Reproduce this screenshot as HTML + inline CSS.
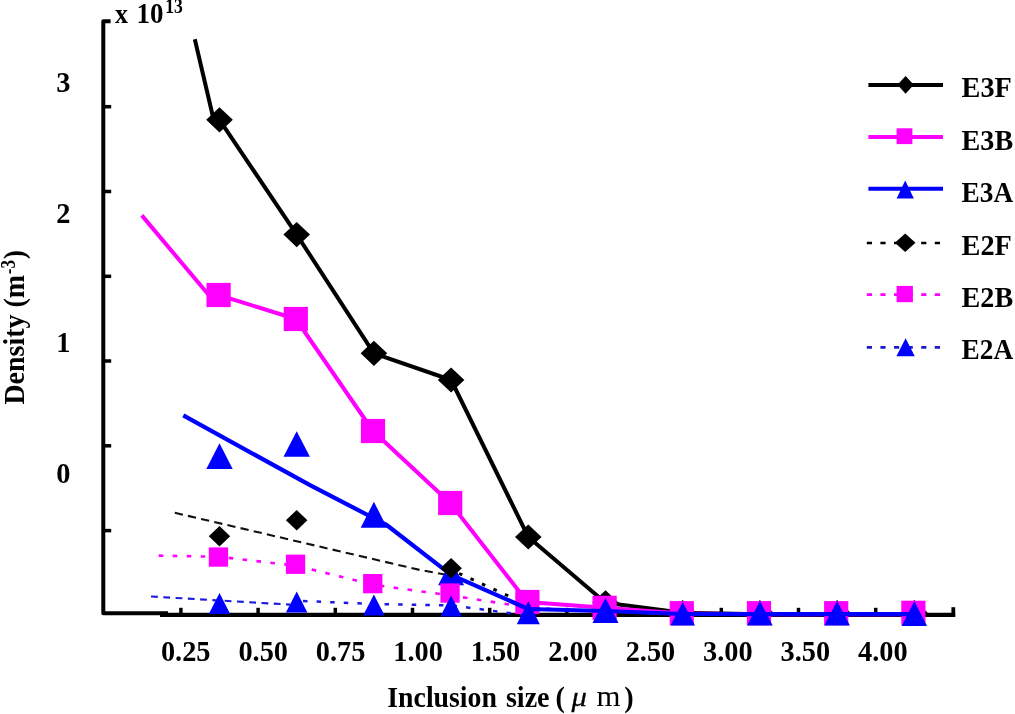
<!DOCTYPE html>
<html><head><meta charset="utf-8"><title>Inclusion density</title>
<style>
html,body{margin:0;padding:0;background:#fff;}
svg{display:block;}
text{font-family:"Liberation Serif","Noto Serif CJK SC",serif;font-weight:bold;fill:#000;}
</style></head><body>
<svg width="1015" height="714" viewBox="0 0 1015 714">
<defs><filter id="soft" x="0" y="0" width="100%" height="100%" filterUnits="userSpaceOnUse" color-interpolation-filters="sRGB"><feGaussianBlur stdDeviation="0.65"/></filter></defs>
<rect width="1015" height="714" fill="#fff"/>
<g filter="url(#soft)">
<rect width="1015" height="714" fill="#fff"/>

<g stroke="#000" fill="none">
<polyline points="110.6,21.3 103.3,21.3 103.3,613.3 168,613.3" stroke-width="4" stroke-linejoin="round"/>
<polyline points="160,614.9 955.2,614.9" stroke-width="4.2"/>
<line x1="953.3" y1="616.9" x2="953.3" y2="607.2" stroke-width="3.8"/>
</g>
<g stroke="#000" stroke-width="3.5" fill="none">
<line x1="103.3" y1="106.7" x2="111.2" y2="106.7"/>
<line x1="103.3" y1="191.5" x2="111.2" y2="191.5"/>
<line x1="103.3" y1="276.3" x2="111.2" y2="276.3"/>
<line x1="103.3" y1="361.0" x2="111.2" y2="361.0"/>
<line x1="103.3" y1="445.8" x2="111.2" y2="445.8"/>
<line x1="103.3" y1="530.6" x2="111.2" y2="530.6"/>
<line x1="180.9" y1="614" x2="180.9" y2="607.8"/>
<line x1="258.1" y1="614" x2="258.1" y2="607.8"/>
<line x1="335.3" y1="614" x2="335.3" y2="607.8"/>
<line x1="412.5" y1="614" x2="412.5" y2="607.8"/>
<line x1="489.7" y1="614" x2="489.7" y2="607.8"/>
<line x1="566.9" y1="614" x2="566.9" y2="607.8"/>
<line x1="644.1" y1="614" x2="644.1" y2="607.8"/>
<line x1="721.3" y1="614" x2="721.3" y2="607.8"/>
<line x1="798.5" y1="614" x2="798.5" y2="607.8"/>
<line x1="875.7" y1="614" x2="875.7" y2="607.8"/>
</g>
<polyline points="151,596.5 290,604.6" fill="none" stroke="#1a1ae0" stroke-width="2.1" stroke-dasharray="6.8 5.5"/>
<polyline points="303,601 373.9,604 451.1,605.4 528.3,615.5" fill="none" stroke="#1a1ae0" stroke-width="2.5" stroke-dasharray="4.5 9.1"/>
<polyline points="158.7,555.6 219.5,556.8 296.7,565.8 373.9,584.9 451.1,595.5 528.3,607.5 605.5,612" fill="none" stroke="#f0f" stroke-width="2.6" stroke-dasharray="4.6 9.4"/>
<polyline points="174.8,512.8 420,570 445,574.5" fill="none" stroke="#111" stroke-width="2.1" stroke-dasharray="8.3 5.2"/>
<polyline points="459,573.5 522,602" fill="none" stroke="#000" stroke-width="3" stroke-dasharray="3.6 9"/>
<polyline points="219.5,119.8 296.7,234.6 373.9,353.3 451.1,380.0 528.3,537.0 605.5,602.8 682.7,612.8 759.9,614.2 837.1,614.4 914.3,614.4" fill="none" stroke="#000" stroke-width="4" stroke-linejoin="round"/>
<line x1="194.8" y1="39.2" x2="214.2" y2="122" stroke="#000" stroke-width="4"/>
<polygon points="206.2,119.8 219.5,107.2 232.8,119.8 219.5,132.4" fill="#000"/>
<polygon points="283.4,234.6 296.7,222.0 310.0,234.6 296.7,247.2" fill="#000"/>
<polygon points="360.6,353.3 373.9,340.7 387.2,353.3 373.9,365.9" fill="#000"/>
<polygon points="437.8,380.0 451.1,367.4 464.4,380.0 451.1,392.6" fill="#000"/>
<polygon points="515.0,537.0 528.3,524.4 541.6,537.0 528.3,549.6" fill="#000"/>
<polygon points="592.2,602.8 605.5,590.2 618.8,602.8 605.5,615.4" fill="#000"/>
<polygon points="669.4,612.6 682.7,600.0 696.0,612.6 682.7,625.2" fill="#000"/>
<polygon points="746.6,612.6 759.9,600.0 773.2,612.6 759.9,625.2" fill="#000"/>
<polygon points="823.8,612.6 837.1,600.0 850.4,612.6 837.1,625.2" fill="#000"/>
<polygon points="901.0,612.6 914.3,600.0 927.6,612.6 914.3,625.2" fill="#000"/>
<polyline points="218.6,295.0 295.8,319.0 373.0,431.0 450.2,503.0 527.4,602.0 604.6,607.8 681.8,613.6 759.0,614.2 836.2,614.2 913.4,614.2" fill="none" stroke="#f0f" stroke-width="4" stroke-linejoin="round"/>
<line x1="141.8" y1="215.4" x2="209.8" y2="296.3" stroke="#f0f" stroke-width="4"/>
<rect x="206.5" y="282.9" width="24.2" height="24.2" fill="#f0f"/>
<rect x="283.7" y="306.9" width="24.2" height="24.2" fill="#f0f"/>
<rect x="360.9" y="418.9" width="24.2" height="24.2" fill="#f0f"/>
<rect x="438.1" y="490.9" width="24.2" height="24.2" fill="#f0f"/>
<rect x="515.3" y="589.9" width="24.2" height="24.2" fill="#f0f"/>
<rect x="592.5" y="595.7" width="24.2" height="24.2" fill="#f0f"/>
<rect x="669.7" y="601.1" width="24.2" height="24.2" fill="#f0f"/>
<rect x="746.9" y="601.1" width="24.2" height="24.2" fill="#f0f"/>
<rect x="824.1" y="601.1" width="24.2" height="24.2" fill="#f0f"/>
<rect x="901.3" y="600.7" width="24.2" height="24.2" fill="#f0f"/>
<polyline points="183.3,415.4 310.0,485.2 386.0,524.5 451.1,574.8 528.3,609.0 605.5,611.0 682.7,614.0 759.9,614.2 837.1,614.2 914.3,614.2" fill="none" stroke="#00f" stroke-width="4.2" stroke-linejoin="round"/>
<polygon points="206.3,469.0 219.5,443.2 232.7,469.0" fill="#00f"/>
<polygon points="283.5,456.8 296.7,431.2 309.9,456.8" fill="#00f"/>
<polygon points="360.7,527.7 373.9,501.7 387.1,527.7" fill="#00f"/>
<polygon points="438.1,585.2 451.1,560.2 464.1,585.2" fill="#00f"/>
<polygon points="516.8,624.3 528.3,601.3 539.8,624.3" fill="#00f"/>
<polygon points="592.5,623.1 605.5,598.1 618.5,623.1" fill="#00f"/>
<polygon points="670.5,625.6 682.7,602.1 695.0,625.6" fill="#00f"/>
<polygon points="747.1,625.4 759.9,601.0 772.7,625.4" fill="#00f"/>
<polygon points="824.3,625.4 837.1,601.0 849.9,625.4" fill="#00f"/>
<polygon points="901.6,625.9 914.3,601.3 927.0,625.9" fill="#00f"/>
<polygon points="208.8,536.3 219.5,526.0 230.2,536.3 219.5,546.5" fill="#000"/>
<polygon points="285.9,520.2 296.7,510.0 307.4,520.2 296.7,530.5" fill="#000"/>
<polygon points="440.4,568.2 451.1,558.0 461.9,568.2 451.1,578.5" fill="#000"/>
<rect x="208.8" y="547.4" width="19.3" height="19.3" fill="#f0f"/>
<rect x="285.9" y="554.6" width="19.3" height="19.3" fill="#f0f"/>
<rect x="363.1" y="574.0" width="19.3" height="19.3" fill="#f0f"/>
<rect x="440.4" y="583.4" width="19.3" height="19.3" fill="#f0f"/>
<polygon points="208.8,614.0 219.5,593.0 230.2,614.0" fill="#00f"/>
<polygon points="285.9,612.5 296.7,591.5 307.4,612.5" fill="#00f"/>
<polygon points="363.1,615.5 373.9,594.5 384.6,615.5" fill="#00f"/>
<polygon points="440.4,616.5 451.1,595.5 461.9,616.5" fill="#00f"/>
<line x1="868.4" y1="84.9" x2="943" y2="84.9" stroke="#000" stroke-width="4"/>
<polygon points="897.4,84.8 905.6,75.9 913.8,84.8 905.6,93.7" fill="#000"/>
<text x="961.6" y="97.3" font-size="30.3" textLength="50.3" lengthAdjust="spacingAndGlyphs">E3F</text>
<line x1="868.4" y1="137.1" x2="943" y2="137.1" stroke="#f0f" stroke-width="4"/>
<rect x="896.6" y="128.3" width="15.8" height="15.8" fill="#f0f"/>
<text x="961.6" y="149.6" font-size="30.3" textLength="51.6" lengthAdjust="spacingAndGlyphs">E3B</text>
<line x1="868.4" y1="188.8" x2="943" y2="188.8" stroke="#00f" stroke-width="4"/>
<polygon points="896.6,198.5 905.2,180.5 913.9,198.5" fill="#00f"/>
<text x="961.6" y="201.9" font-size="30.3" textLength="51.6" lengthAdjust="spacingAndGlyphs">E3A</text>
<line x1="866.8" y1="243" x2="943" y2="243" stroke="#000" stroke-width="2.5" stroke-dasharray="5.2 8.4"/>
<polygon points="894.9,242.7 905.2,233.4 915.5,242.7 905.2,252.0" fill="#000"/>
<text x="961.6" y="254.5" font-size="30.3" textLength="50.3" lengthAdjust="spacingAndGlyphs">E2F</text>
<line x1="866.8" y1="294.6" x2="943" y2="294.6" stroke="#f0f" stroke-width="2.7" stroke-dasharray="5.2 8.4"/>
<rect x="896.6" y="285.9" width="16.3" height="16.3" fill="#f0f"/>
<text x="961.6" y="306.8" font-size="30.3" textLength="51.6" lengthAdjust="spacingAndGlyphs">E2B</text>
<line x1="866.8" y1="347.3" x2="943" y2="347.3" stroke="#1a1ad0" stroke-width="2.7" stroke-dasharray="5.2 8.4"/>
<polygon points="896.4,356.3 905.6,338.3 914.8,356.3" fill="#00f"/>
<text x="961.6" y="358.8" font-size="30.3" textLength="51.6" lengthAdjust="spacingAndGlyphs">E2A</text>
<text x="160.9" y="660.8" font-size="29" textLength="49.6" lengthAdjust="spacingAndGlyphs">0.25</text>
<text x="238.4" y="660.8" font-size="29" textLength="49.6" lengthAdjust="spacingAndGlyphs">0.50</text>
<text x="315.8" y="660.8" font-size="29" textLength="49.6" lengthAdjust="spacingAndGlyphs">0.75</text>
<text x="393.3" y="660.8" font-size="29" textLength="49.6" lengthAdjust="spacingAndGlyphs">1.00</text>
<text x="470.7" y="660.8" font-size="29" textLength="49.6" lengthAdjust="spacingAndGlyphs">1.50</text>
<text x="548.2" y="660.8" font-size="29" textLength="49.6" lengthAdjust="spacingAndGlyphs">2.00</text>
<text x="625.7" y="660.8" font-size="29" textLength="49.6" lengthAdjust="spacingAndGlyphs">2.50</text>
<text x="703.1" y="660.8" font-size="29" textLength="49.6" lengthAdjust="spacingAndGlyphs">3.00</text>
<text x="780.6" y="660.8" font-size="29" textLength="49.6" lengthAdjust="spacingAndGlyphs">3.50</text>
<text x="858.0" y="660.8" font-size="29" textLength="49.6" lengthAdjust="spacingAndGlyphs">4.00</text>
<text x="56.2" y="92.4" font-size="30" textLength="14.2" lengthAdjust="spacingAndGlyphs">3</text>
<text x="56.2" y="222.6" font-size="30" textLength="14.2" lengthAdjust="spacingAndGlyphs">2</text>
<text x="56.2" y="352.1" font-size="30" textLength="14.2" lengthAdjust="spacingAndGlyphs">1</text>
<text x="56.2" y="482.9" font-size="30" textLength="14.2" lengthAdjust="spacingAndGlyphs">0</text>
<text x="114.9" y="23" font-size="28" textLength="13" lengthAdjust="spacingAndGlyphs">x</text>
<text x="136.6" y="23" font-size="29" textLength="27" lengthAdjust="spacingAndGlyphs">10</text>
<text x="165.3" y="13.4" font-size="20" textLength="17.6" lengthAdjust="spacingAndGlyphs">13</text>
<text x="387.3" y="706.5" font-size="30" textLength="109.6" lengthAdjust="spacingAndGlyphs">Inclusion</text>
<text x="505.9" y="706.5" font-size="30" textLength="43.7" lengthAdjust="spacingAndGlyphs">size</text>
<text x="555.5" y="706.5" font-size="30" textLength="9.4" lengthAdjust="spacingAndGlyphs">(</text>
<text x="571.6" y="706.2" font-size="28" style="font-weight:normal;font-style:italic" stroke="#000" stroke-width="0.3" textLength="15.4" lengthAdjust="spacingAndGlyphs">μ</text>
<text x="596.6" y="706.3" font-size="29" style="font-weight:normal" textLength="24" lengthAdjust="spacingAndGlyphs">m</text>
<text x="624.3" y="706.5" font-size="30" textLength="9.4" lengthAdjust="spacingAndGlyphs">)</text>
<g transform="translate(23.6,404.6) rotate(-90)"><text x="0" y="0" font-size="30" textLength="129.6" lengthAdjust="spacingAndGlyphs">Density (m</text><text x="130.4" y="-8.4" font-size="20" textLength="14.2" lengthAdjust="spacingAndGlyphs">-3</text><text x="145.4" y="0" font-size="30" textLength="9.3" lengthAdjust="spacingAndGlyphs">)</text></g>
</g></svg></body></html>
